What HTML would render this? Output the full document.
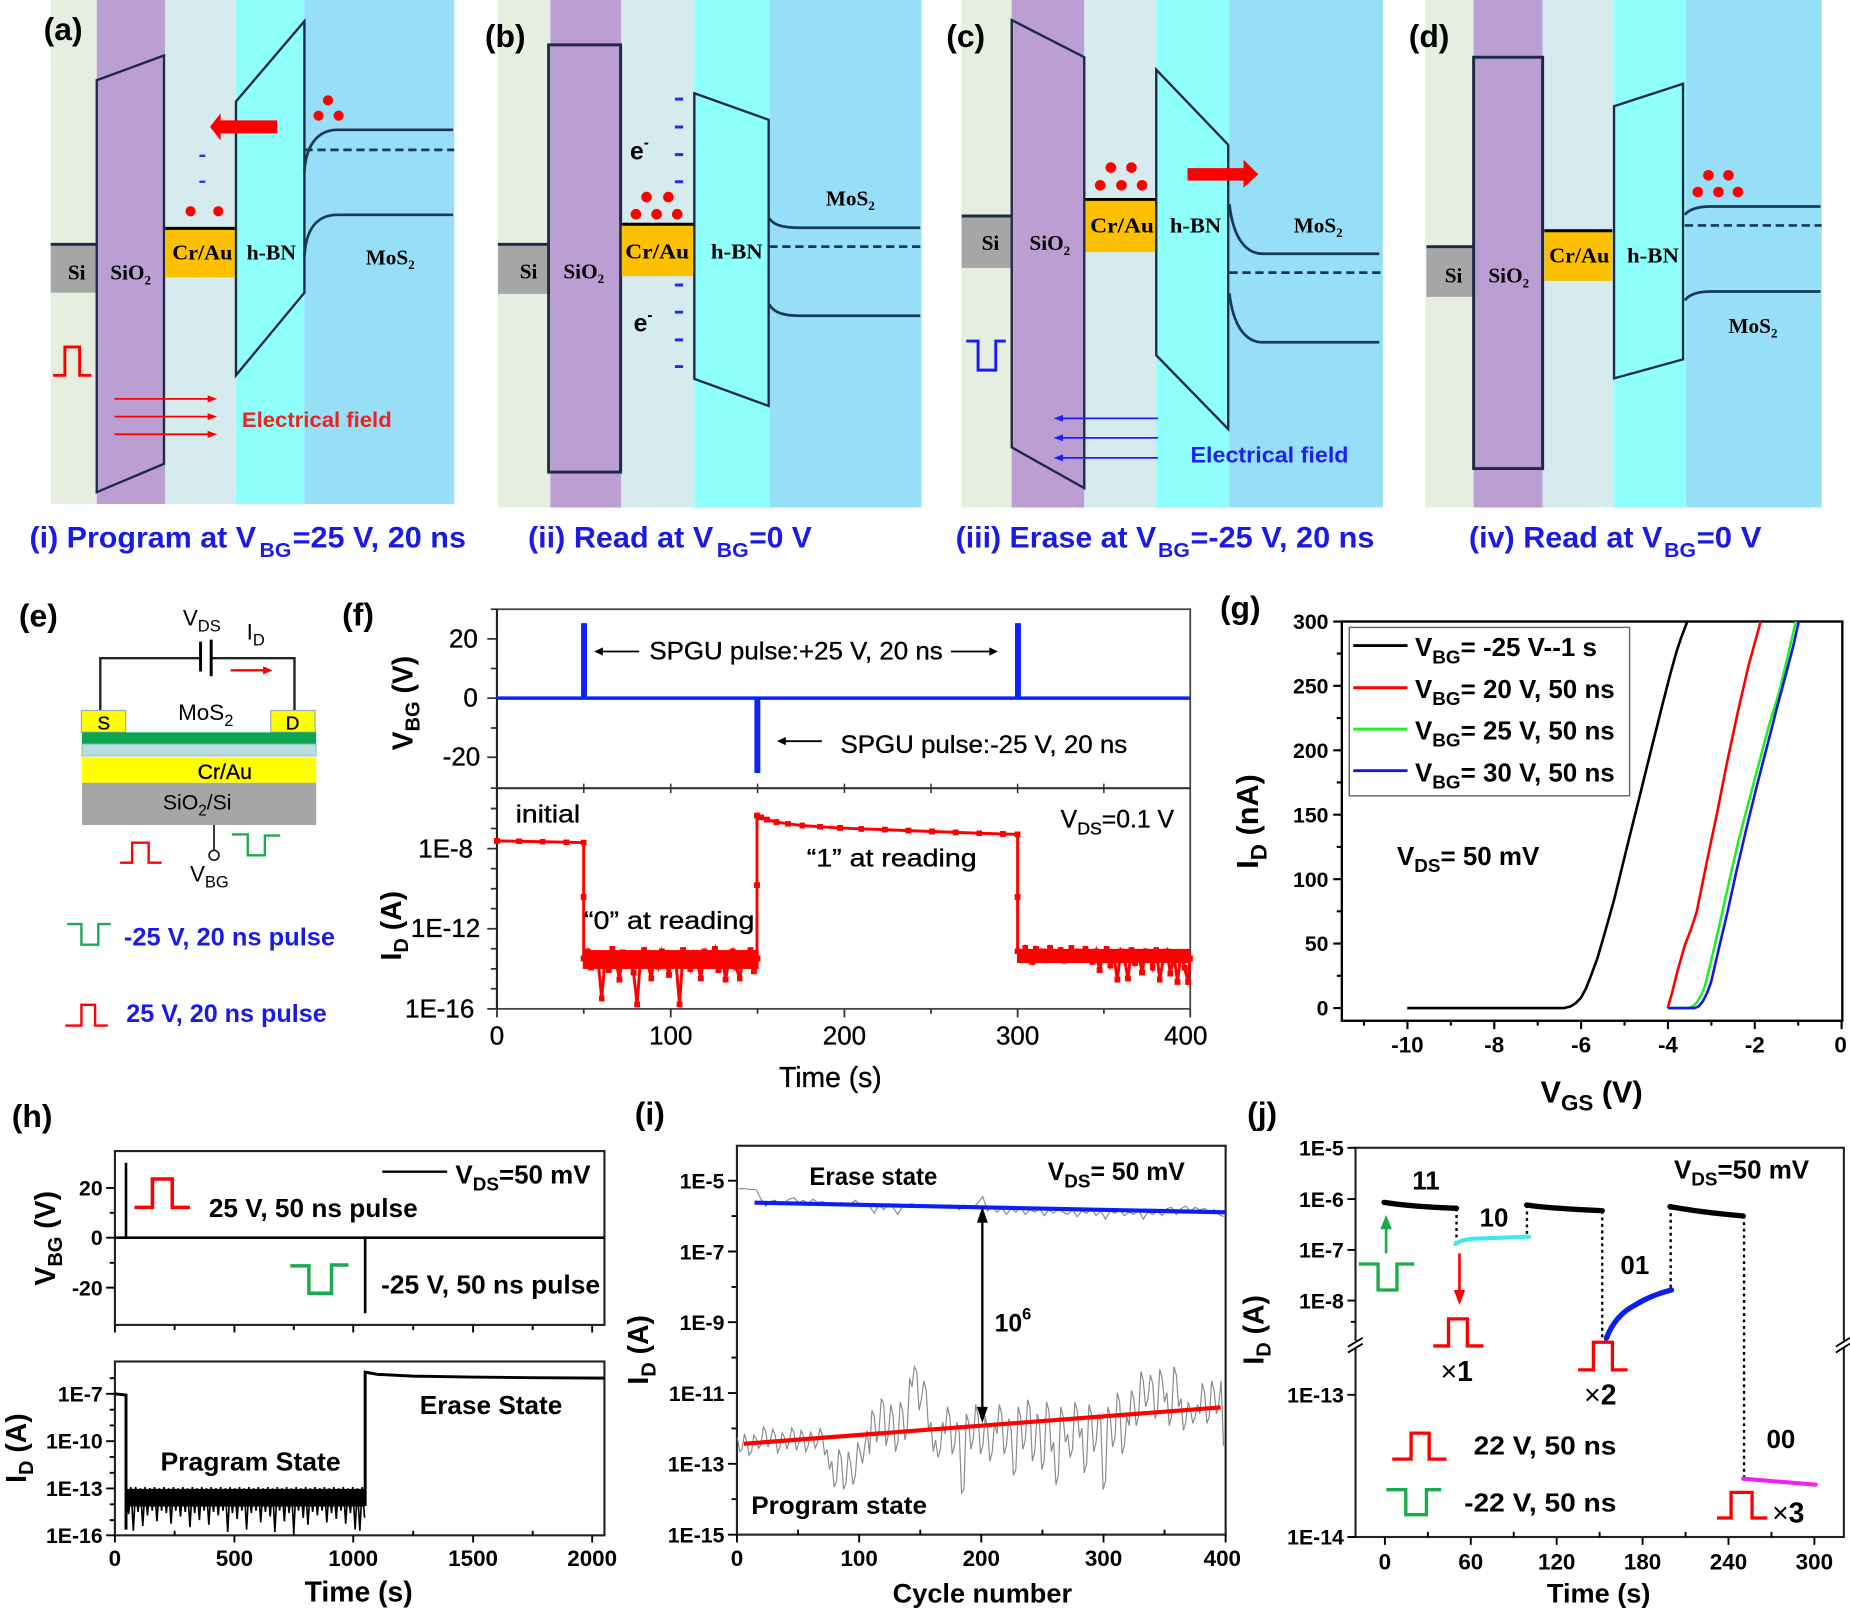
<!DOCTYPE html>
<html><head><meta charset="utf-8"><style>
html,body{margin:0;padding:0;background:#fff}
svg{display:block}
.b{font-family:"Liberation Sans",Arial,sans-serif;font-weight:bold}
.r{font-family:"Liberation Sans",Arial,sans-serif}
.s{font-family:"Liberation Serif",serif;font-weight:bold}
</style></head><body>
<svg xmlns="http://www.w3.org/2000/svg" width="1850" height="1611" viewBox="0 0 1568 1365" preserveAspectRatio="none">
<defs>
<marker id="sq" markerWidth="5" markerHeight="5" refX="2.5" refY="2.5" markerUnits="userSpaceOnUse"><rect width="5" height="5" fill="#f00"/></marker>
</defs>
<rect width="1568" height="1365" fill="#fff"/>

<!-- ===== Panel a ===== -->
<rect x="43" y="0" width="39" height="427" fill="#e6efdf"/>
<rect x="82" y="0" width="58" height="427" fill="#bc9fd2"/>
<rect x="140" y="0" width="60" height="427" fill="#d6ebed"/>
<rect x="200" y="0" width="58" height="427" fill="#8ffffc"/>
<rect x="258" y="0" width="127" height="427" fill="#97dff6"/>
<rect x="43" y="207" width="39" height="41" fill="#a6a6a6"/>
<line x1="43" y1="207" x2="82" y2="207" stroke="#1c2a48" stroke-width="2.5"/>
<polygon points="82,68 139,47 139,393 82,417" fill="none" stroke="#1c2a48" stroke-width="2"/>
<rect x="140" y="194" width="59" height="41" fill="#fdc000"/>
<line x1="140" y1="193.5" x2="199" y2="193.5" stroke="#000" stroke-width="2.5"/>
<polygon points="200,86 258,18 258,248 200,318" fill="#8ffffc" stroke="#1c2a48" stroke-width="2"/>
<path d="M258,146 C259,125 268,110 286,110 L384,110 M258,218 C259,195 268,182 286,182 L384,182" fill="none" stroke="#173a52" stroke-width="2.3"/>
<path d="M258,127 L385,127" stroke="#173a52" stroke-width="2.3" stroke-dasharray="7,4"/>
<circle cx="161.5" cy="179" r="4.3" fill="#f00"/><circle cx="185" cy="179" r="4.3" fill="#f00"/>
<circle cx="278" cy="85" r="4.3" fill="#f00"/><circle cx="270" cy="98" r="4.3" fill="#f00"/><circle cx="287" cy="98" r="4.3" fill="#f00"/>
<path d="M169,132H174 M169,154H174" stroke="#2030e0" stroke-width="2"/>
<polygon points="235,102 187,102 187,96 178,107.5 187,119 187,113 235,113" fill="#f00"/>
<polyline points="45,318 55,318 55,294 67.5,294 67.5,318 77.5,318" fill="none" stroke="#f00" stroke-width="2.5"/>
<path d="M97,338H178 M97,353H178 M97,368H178" stroke="#f00" stroke-width="1.5"/>
<polygon points="184,338 176,335 176,341" fill="#f00"/><polygon points="184,353 176,350 176,356" fill="#f00"/><polygon points="184,368 176,365 176,371" fill="#f00"/>
<text x="205" y="362" class="b" font-size="18" fill="#f02020" textLength="127" lengthAdjust="spacingAndGlyphs">Electrical field</text>
<text x="65" y="237" class="s" font-size="18" text-anchor="middle">Si</text>
<text x="93.5" y="237" class="s" font-size="18">SiO<tspan font-size="11" dy="4">2</tspan></text>
<text x="146" y="220" class="s" font-size="18" textLength="51" lengthAdjust="spacingAndGlyphs">Cr/Au</text>
<text x="209" y="220" class="s" font-size="18" textLength="42" lengthAdjust="spacingAndGlyphs">h-BN</text>
<text x="310" y="224" class="s" font-size="18">MoS<tspan font-size="11" dy="4">2</tspan></text>
<text x="37" y="34" class="b" font-size="27">(a)</text>

<!-- ===== Panel b ===== -->
<rect x="422" y="0" width="44.5" height="430" fill="#e6efdf"/>
<rect x="466.5" y="0" width="60" height="430" fill="#bc9fd2"/>
<rect x="526.5" y="0" width="62" height="430" fill="#d6ebed"/>
<rect x="588.5" y="0" width="64" height="430" fill="#8ffffc"/>
<rect x="652.5" y="0" width="128.5" height="430" fill="#97dff6"/>
<rect x="422" y="207" width="44" height="42" fill="#a6a6a6"/>
<line x1="422" y1="207" x2="466" y2="207" stroke="#1c2a48" stroke-width="2.5"/>
<rect x="465" y="38" width="61" height="362" fill="none" stroke="#1c2a48" stroke-width="2.5"/>
<rect x="527" y="190" width="61" height="44" fill="#fdc000"/>
<line x1="527" y1="190" x2="588" y2="190" stroke="#000" stroke-width="2.5"/>
<polygon points="588.5,79 651.5,101.5 651.5,344 588.5,321" fill="#8ffffc" stroke="#1c2a48" stroke-width="2"/>
<path d="M652,185 C656,191 664,193 678,193 L780,193 M652,258 C656,265 664,267.5 678,267.5 L780,267.5" fill="none" stroke="#173a52" stroke-width="2.3"/>
<path d="M652,209 L781,209" stroke="#173a52" stroke-width="2.3" stroke-dasharray="7,4"/>
<circle cx="548" cy="167" r="4.5" fill="#f00"/><circle cx="566.5" cy="167" r="4.5" fill="#f00"/>
<circle cx="539" cy="181.5" r="4.5" fill="#f00"/><circle cx="556.5" cy="181.5" r="4.5" fill="#f00"/><circle cx="574" cy="181.5" r="4.5" fill="#f00"/>
<path d="M572,84H579 M572,107.6H579 M572,131H579 M572,154H579 M572,241.5H579 M572,264.5H579 M572,288H579 M572,310.6H579" stroke="#2030e0" stroke-width="2.5"/>
<text x="534" y="135" class="r" font-size="21" font-weight="bold">e<tspan font-size="13" dy="-10">-</tspan></text>
<text x="537" y="281" class="r" font-size="21" font-weight="bold">e<tspan font-size="13" dy="-10">-</tspan></text>
<text x="448" y="236" class="s" font-size="18" text-anchor="middle">Si</text>
<text x="477.5" y="236" class="s" font-size="18">SiO<tspan font-size="11" dy="4">2</tspan></text>
<text x="530" y="219" class="s" font-size="18" textLength="54" lengthAdjust="spacingAndGlyphs">Cr/Au</text>
<text x="602.5" y="219" class="s" font-size="18" textLength="44" lengthAdjust="spacingAndGlyphs">h-BN</text>
<text x="700" y="174" class="s" font-size="18">MoS<tspan font-size="11" dy="4">2</tspan></text>
<text x="411" y="40" class="b" font-size="27">(b)</text>

<!-- ===== Panel c ===== -->
<rect x="815" y="0" width="42.5" height="430" fill="#e6efdf"/>
<rect x="857.5" y="0" width="61.5" height="430" fill="#bc9fd2"/>
<rect x="919" y="0" width="61" height="430" fill="#d6ebed"/>
<rect x="980" y="0" width="62" height="430" fill="#8ffffc"/>
<rect x="1042" y="0" width="130" height="430" fill="#97dff6"/>
<rect x="815" y="183" width="42.5" height="44" fill="#a6a6a6"/>
<line x1="815" y1="183" x2="857.5" y2="183" stroke="#1c2a48" stroke-width="2.5"/>
<polygon points="857.5,17 919,48.5 919,413.6 857.5,379" fill="none" stroke="#1c2a48" stroke-width="2"/>
<rect x="920" y="169" width="60" height="44.6" fill="#fdc000"/>
<line x1="920" y1="169" x2="980" y2="169" stroke="#000" stroke-width="2.5"/>
<polygon points="980,59 1041,122.7 1041,363.6 980,301" fill="#8ffffc" stroke="#1c2a48" stroke-width="2"/>
<path d="M1042,173 C1045,200 1055,215 1070,215 L1169,215 M1042,248.5 C1045,275 1055,290 1070,290 L1169,290" fill="none" stroke="#173a52" stroke-width="2.3"/>
<path d="M1042,231 L1170,231" stroke="#173a52" stroke-width="2.3" stroke-dasharray="7,4"/>
<circle cx="941.5" cy="142" r="4.5" fill="#f00"/><circle cx="959" cy="142" r="4.5" fill="#f00"/>
<circle cx="932.5" cy="157" r="4.5" fill="#f00"/><circle cx="950.5" cy="157" r="4.5" fill="#f00"/><circle cx="968" cy="157" r="4.5" fill="#f00"/>
<polygon points="1006.5,142.4 1054,142.4 1054,135.4 1066.5,147.7 1054,159 1054,153 1006.5,153" fill="#f00"/>
<polyline points="819,289 829,289 829,313.6 844,313.6 844,289 852.5,289" fill="none" stroke="#1a1aff" stroke-width="2.5"/>
<path d="M900,354.5H981.5 M900,371H981.5 M900,388H981.5" stroke="#2020ff" stroke-width="1.5"/>
<polygon points="893,354.5 901,351.5 901,357.5" fill="#2020ff"/><polygon points="893,371 901,368 901,374" fill="#2020ff"/><polygon points="893,388 901,385 901,391" fill="#2020ff"/>
<text x="1009" y="392" class="b" font-size="19" fill="#2020f0" textLength="134" lengthAdjust="spacingAndGlyphs">Electrical field</text>
<text x="839.5" y="212" class="s" font-size="18" text-anchor="middle">Si</text>
<text x="872.5" y="212" class="s" font-size="18">SiO<tspan font-size="11" dy="4">2</tspan></text>
<text x="924" y="197" class="s" font-size="18" textLength="54" lengthAdjust="spacingAndGlyphs">Cr/Au</text>
<text x="991.5" y="197" class="s" font-size="18" textLength="43.5" lengthAdjust="spacingAndGlyphs">h-BN</text>
<text x="1096.5" y="197" class="s" font-size="18">MoS<tspan font-size="11" dy="4">2</tspan></text>
<text x="802" y="40" class="b" font-size="27">(c)</text>

<!-- ===== Panel d ===== -->
<rect x="1208" y="0" width="41" height="430" fill="#e6efdf"/>
<rect x="1249" y="0" width="58.5" height="430" fill="#bc9fd2"/>
<rect x="1307.5" y="0" width="60.5" height="430" fill="#d6ebed"/>
<rect x="1368" y="0" width="61" height="430" fill="#8ffffc"/>
<rect x="1429" y="0" width="115" height="430" fill="#97dff6"/>
<rect x="1209" y="209" width="40" height="42.5" fill="#a6a6a6"/>
<line x1="1209" y1="209" x2="1249" y2="209" stroke="#1c2a48" stroke-width="2.5"/>
<rect x="1249" y="48.5" width="58.5" height="348.5" fill="none" stroke="#1c2a48" stroke-width="2.5"/>
<rect x="1309" y="195.5" width="57.5" height="42.5" fill="#fdc000"/>
<line x1="1309" y1="195.5" x2="1366.5" y2="195.5" stroke="#000" stroke-width="2.5"/>
<polygon points="1368,90 1426.5,71 1426.5,304.5 1368,320.6" fill="#8ffffc" stroke="#1c2a48" stroke-width="2"/>
<path d="M1428,182 C1432,177 1440,175 1450,175 L1543,175 M1428,254.5 C1432,249 1440,247 1450,247 L1543,247" fill="none" stroke="#173a52" stroke-width="2.3"/>
<path d="M1428,191 L1544,191" stroke="#173a52" stroke-width="2.3" stroke-dasharray="7,4"/>
<circle cx="1448" cy="148.5" r="4.5" fill="#f00"/><circle cx="1465" cy="148.5" r="4.5" fill="#f00"/>
<circle cx="1439" cy="162.7" r="4.5" fill="#f00"/><circle cx="1456.5" cy="162.7" r="4.5" fill="#f00"/><circle cx="1473" cy="162.7" r="4.5" fill="#f00"/>
<text x="1232" y="239.5" class="s" font-size="18" text-anchor="middle">Si</text>
<text x="1261.5" y="239.5" class="s" font-size="18">SiO<tspan font-size="11" dy="4">2</tspan></text>
<text x="1313" y="222.6" class="s" font-size="18" textLength="51" lengthAdjust="spacingAndGlyphs">Cr/Au</text>
<text x="1379" y="222.6" class="s" font-size="18" textLength="44" lengthAdjust="spacingAndGlyphs">h-BN</text>
<text x="1465" y="282" class="s" font-size="18">MoS<tspan font-size="11" dy="4">2</tspan></text>
<text x="1194" y="40" class="b" font-size="27">(d)</text>

<!-- captions -->
<g class="b" fill="#1a1ae8" font-size="25">
<text x="25" y="464" textLength="192" lengthAdjust="spacingAndGlyphs">(i) Program at V</text>
<text x="220" y="472" font-size="17" textLength="27" lengthAdjust="spacingAndGlyphs">BG</text>
<text x="248" y="464" textLength="147" lengthAdjust="spacingAndGlyphs">=25 V, 20 ns</text>
<text x="447.5" y="464" textLength="157" lengthAdjust="spacingAndGlyphs">(ii) Read at V</text>
<text x="607.5" y="472" font-size="17" textLength="27" lengthAdjust="spacingAndGlyphs">BG</text>
<text x="635" y="464" textLength="53" lengthAdjust="spacingAndGlyphs">=0 V</text>
<text x="810" y="464" textLength="170" lengthAdjust="spacingAndGlyphs">(iii) Erase at V</text>
<text x="981.5" y="472" font-size="17" textLength="27" lengthAdjust="spacingAndGlyphs">BG</text>
<text x="1009" y="464" textLength="156" lengthAdjust="spacingAndGlyphs">=-25 V, 20 ns</text>
<text x="1245" y="464" textLength="164" lengthAdjust="spacingAndGlyphs">(iv) Read at V</text>
<text x="1410.5" y="472" font-size="17" textLength="27" lengthAdjust="spacingAndGlyphs">BG</text>
<text x="1438" y="464" textLength="55" lengthAdjust="spacingAndGlyphs">=0 V</text>
</g>

<!-- ===== Panel e ===== -->
<text x="16" y="531" class="b" font-size="27">(e)</text>
<text x="155" y="530" class="r" font-size="19">V<tspan font-size="14" dy="5">DS</tspan></text>
<text x="209" y="542" class="r" font-size="19">I<tspan font-size="14" dy="5">D</tspan></text>
<path d="M85,603 V557.7 H170 M179,557.7 H249.6 V603" fill="none" stroke="#222" stroke-width="2"/>
<path d="M170,543.6 V569 M179,542 V573" stroke="#000" stroke-width="2.5"/>
<line x1="195.5" y1="568" x2="225" y2="568" stroke="#f00" stroke-width="2"/>
<polygon points="231,568 223,564.5 223,571.5" fill="#f00"/>
<rect x="69" y="602" width="37.5" height="18.5" fill="#ffff00" stroke="#9aa" stroke-width="1"/>
<rect x="229.5" y="602" width="37.5" height="18.5" fill="#ffff00" stroke="#9aa" stroke-width="1"/>
<rect x="69.5" y="620.5" width="198.5" height="10" fill="#0ca550"/>
<rect x="69.5" y="630.5" width="198.5" height="10" fill="#b7dde0" stroke="#9bb" stroke-width="0.8"/>
<rect x="69.5" y="641.6" width="198.5" height="21.7" fill="#ffff00"/>
<rect x="69.5" y="663.3" width="198.5" height="35.7" fill="#a6a6a6"/>
<text x="88" y="618" class="r" font-size="16" text-anchor="middle" stroke="#000" stroke-width="0.3">S</text>
<text x="248" y="618" class="r" font-size="16" text-anchor="middle" stroke="#000" stroke-width="0.3">D</text>
<text x="151" y="610" class="r" font-size="19">MoS<tspan font-size="14" dy="5">2</tspan></text>
<text x="190.5" y="660" class="r" font-size="18" text-anchor="middle" stroke="#000" stroke-width="0.3">Cr/Au</text>
<text x="138" y="686" class="r" font-size="18">SiO<tspan font-size="13" dy="5">2</tspan><tspan dy="-5">/Si</tspan></text>
<line x1="181.4" y1="699" x2="181.4" y2="720.5" stroke="#222" stroke-width="1.5"/>
<circle cx="181.4" cy="724.7" r="4.2" fill="#fff" stroke="#222" stroke-width="1.5"/>
<text x="161" y="747" class="r" font-size="19">V<tspan font-size="14" dy="5">BG</tspan></text>
<polyline points="101.8,731 112,731 112,714 126,714 126,731 137,731" fill="none" stroke="#f00" stroke-width="2"/>
<polyline points="196.6,707 210,707 210,724.7 224.5,724.7 224.5,708 237.5,708" fill="none" stroke="#1aaa50" stroke-width="2"/>
<polyline points="57,783 69,783 69,800.4 83.3,800.4 83.3,783 94,783" fill="none" stroke="#1aaa50" stroke-width="2"/>
<text x="105" y="801" class="b" font-size="21" fill="#1a1ae8" textLength="179" lengthAdjust="spacingAndGlyphs">-25 V, 20 ns pulse</text>
<polyline points="55.4,869 69,869 69,851.4 80.6,851.4 80.6,869 91.4,869" fill="none" stroke="#f00" stroke-width="2"/>
<text x="107" y="866" class="b" font-size="21" fill="#1a1ae8" textLength="170" lengthAdjust="spacingAndGlyphs">25 V, 20 ns pulse</text>

<!-- ===== Panel f ===== -->
<text x="290" y="530" class="b" font-size="27">(f)</text>
<rect x="421.2" y="516.2" width="587.6" height="338.6" fill="none" stroke="#444" stroke-width="1.5"/>
<line x1="421.2" y1="667.8" x2="1008.8" y2="667.8" stroke="#333" stroke-width="1.8"/>
<line x1="421.2" y1="516" x2="421.2" y2="855" stroke="#222" stroke-width="1.8"/>
<path d="M413,541.3H421 M413,591.5H421 M413,641.6H421 M416,566.4H421 M416,616.8H421 M416,516.2H421 M416,667.8H421" stroke="#333" stroke-width="1.5"/>
<path d="M416,685.1H421 M416,702H421 M413,719H421 M416,736H421 M416,753H421 M416,769.9H421 M413,786.9H421 M416,803.9H421 M416,820.9H421 M416,837.8H421 M413,854.8H421" stroke="#333" stroke-width="1.5"/>
<path d="M421.2,855V862 M568.5,855V862 M715.7,855V862 M862.5,855V862 M1008.8,855V862 M494.8,855V859 M642.1,855V859 M789.1,855V859 M935.6,855V859" stroke="#333" stroke-width="1.5"/>
<path d="M494.8,664V672 M568.5,664V672 M642.1,664V672 M715.7,664V672 M789.1,664V672 M862.5,664V672 M935.6,664V672" stroke="#333" stroke-width="1.3"/>
<!-- VBG trace -->
<line x1="421.2" y1="591.5" x2="1008.8" y2="591.5" stroke="#0b24fb" stroke-width="3"/>
<rect x="492.5" y="528" width="5" height="64" fill="#0b24fb"/>
<rect x="860.3" y="528" width="5" height="64" fill="#0b24fb"/>
<rect x="639.4" y="591" width="5" height="64" fill="#0b24fb"/>
<g class="r" font-size="21" stroke="#000" stroke-width="0.3">
<text x="550.4" y="559" textLength="248.6" lengthAdjust="spacingAndGlyphs">SPGU pulse:+25 V, 20 ns</text>
<text x="712.4" y="638" textLength="243" lengthAdjust="spacingAndGlyphs">SPGU pulse:-25 V, 20 ns</text>
</g>
<path d="M509,552H541.8 M806,552H840 M664,628H696.6" stroke="#000" stroke-width="1.5"/>
<polygon points="503.6,552 511,548.5 511,555.5" fill="#000"/>
<polygon points="845.8,552 838.5,548.5 838.5,555.5" fill="#000"/>
<polygon points="658.5,628 666,624.5 666,631.5" fill="#000"/>
<!-- ID trace -->
<rect x="494" y="805" width="149" height="16" fill="#f00"/>
<rect x="862" y="804" width="147" height="12" fill="#f00"/>
<g fill="none" stroke="#f00" stroke-width="2.5" marker-start="url(#sq)" marker-mid="url(#sq)" marker-end="url(#sq)">
<polyline points="421.2,712.5 440,712.8 460,713.2 480,713.6 494.7,714 494.7,760 494.7,812"/>
<polyline points="495,812 498,806 501,820 504,808 507,815 510,846 513,810 516,822 519,804 522,813 525,830 528,807 531,818 534,810 537,824 540,851 543,811 546,805 549,816 552,829 555,809 558,819 561,806 564,814 567,826 570,808 573,817 576,851 579,805 582,813 585,821 588,808 591,815 594,829 597,806 600,818 603,811 606,804 609,822 612,809 615,830 618,813 621,806 624,820 627,829 630,810 633,817 636,805 639,823 642,812"/>
<polyline points="641.6,812 641.6,750 641.6,691 645,692.5 650,694.5 658,696.5 668,698 680,699.5 695,700.5 712,701.5 730,702.3 750,703 770,703.8 790,704.5 810,705.3 830,706 850,706.6 862.5,707 862.5,760 862.5,806"/>
<polyline points="863,806 866,812 869,803 872,809 875,815 878,804 881,810 884,806 887,813 890,803 893,808 896,811 899,805 902,814 905,807 908,803 911,810 914,806 917,812 920,804 923,809 926,815 929,806 932,822 935,808 938,804 941,818 944,809 947,830 950,806 953,812 956,829 959,805 962,816 965,808 968,824 971,806 974,811 977,820 980,805 983,830 986,812 989,806 992,825 995,810 998,832 1001,807 1004,820 1007,832 1008.5,812"/>
</g>
<g class="r" font-size="21" stroke="#000" stroke-width="0.3">
<text x="437" y="697" textLength="54.7" lengthAdjust="spacingAndGlyphs">initial</text>
<text x="495" y="787" textLength="144.4" lengthAdjust="spacingAndGlyphs">“0” at reading</text>
<text x="683.8" y="734" textLength="144" lengthAdjust="spacingAndGlyphs">“1” at reading</text>
<text x="899" y="701">V<tspan font-size="15" dy="6">DS</tspan><tspan dy="-6">=0.1 V</tspan></text>
</g>
<g class="r" font-size="22" stroke="#000" stroke-width="0.3" text-anchor="end">
<text x="405" y="548.5">20</text><text x="405" y="598.5">0</text><text x="407" y="648.5">-20</text>
<text x="401" y="726.5">1E-8</text><text x="407" y="794">1E-12</text><text x="402" y="862">1E-16</text>
</g>
<g class="r" font-size="22" stroke="#000" stroke-width="0.3" text-anchor="middle">
<text x="421.2" y="885">0</text><text x="568.5" y="885">100</text><text x="715.7" y="885">200</text><text x="862.5" y="885">300</text><text x="1005" y="885">400</text>
<text x="703.8" y="921" font-size="24">Time (s)</text>
</g>
<g class="b" font-size="24" text-anchor="middle">
<text transform="translate(341.6,595.7) rotate(-90)" y="8">V<tspan font-size="17" dy="6">BG</tspan><tspan dy="-6"> (V)</tspan></text>
<text transform="translate(332,784.4) rotate(-90)" y="8">I<tspan font-size="17" dy="6">D</tspan><tspan dy="-6"> (A)</tspan></text>
</g>

<!-- ===== Panel g ===== -->
<text x="1034" y="524" class="b" font-size="27">(g)</text>
<rect x="1137.3" y="526.6" width="424.2" height="338.3" fill="none" stroke="#000" stroke-width="2"/>
<path d="M1130,854.1H1137 M1130,799.5H1137 M1130,744.9H1137 M1130,690.3H1137 M1130,635.7H1137 M1130,581.1H1137 M1130,526.6H1137 M1133,826.8H1137 M1133,772.2H1137 M1133,717.6H1137 M1133,663H1137 M1133,608.4H1137 M1133,553.8H1137" stroke="#000" stroke-width="1.8"/>
<path d="M1192.9,865V872 M1266.5,865V872 M1340.1,865V872 M1413.7,865V872 M1487.3,865V872 M1560.9,865V872 M1156.1,865V869 M1229.7,865V869 M1303.3,865V869 M1376.9,865V869 M1450.5,865V869 M1524.1,865V869" stroke="#000" stroke-width="1.8"/>
<g fill="none" stroke-width="2.2" stroke-linejoin="round">
<polyline stroke="#000" points="1192.7,854.1 1325.9,854.1 1331,852.8 1335.5,850 1339.9,845.5 1344,838 1348,828 1353.9,812 1360,791 1367.9,763 1375,734 1381.9,706 1388.9,678 1395.8,650 1402.8,622 1409.8,594 1416,570 1421,552 1425,540 1430.1,526.6"/>
<polyline stroke="#f00" points="1413.5,854.1 1417,842 1422,822 1428,801 1433,788 1438,773 1446.5,731 1455.5,688 1464,645 1473,603 1482,564 1492.3,526.6"/>
<polyline stroke="#22ee22" points="1413.5,854.1 1431.2,854.1 1435,852.5 1438.5,849 1442,843 1445.2,835 1452,807 1459.1,776 1466,745 1473.1,714 1482,680 1490.8,647 1499,616 1508.1,586 1515,557 1522.1,526.6"/>
<polyline stroke="#1515f0" points="1413.5,854.1 1436.3,854.1 1440,852.5 1443.5,848 1447,841 1450.3,832 1457,803 1464.3,772.2 1472,737 1480.1,702.4 1489,666 1497.8,632 1506,600 1515.1,566 1520,547 1524.6,526.6"/>
</g>
<rect x="1143.6" y="531.6" width="237.6" height="142.7" fill="#fff" stroke="#666" stroke-width="1.2"/>
<path d="M1147,547H1193" stroke="#000" stroke-width="2.5"/>
<path d="M1147,582.7H1193" stroke="#f00" stroke-width="2.5"/>
<path d="M1147,617.8H1193" stroke="#22ee22" stroke-width="2.5"/>
<path d="M1147,653H1193" stroke="#1515f0" stroke-width="2.5"/>
<g class="b" font-size="22">
<text x="1199.3" y="556">V<tspan font-size="16" dy="6">BG</tspan><tspan dy="-6">= -25 V--1 s</tspan></text>
<text x="1199.3" y="591.5">V<tspan font-size="16" dy="6">BG</tspan><tspan dy="-6">= 20 V, 50 ns</tspan></text>
<text x="1199.3" y="626.5">V<tspan font-size="16" dy="6">BG</tspan><tspan dy="-6">= 25 V, 50 ns</tspan></text>
<text x="1199.3" y="662">V<tspan font-size="16" dy="6">BG</tspan><tspan dy="-6">= 30 V, 50 ns</tspan></text>
<text x="1184" y="733">V<tspan font-size="16" dy="6">DS</tspan><tspan dy="-6">= 50 mV</tspan></text>
</g>
<g class="b" font-size="18" text-anchor="end">
<text x="1126" y="533">300</text><text x="1126" y="587.6">250</text><text x="1126" y="642.2">200</text><text x="1126" y="696.8">150</text><text x="1126" y="751.4">100</text><text x="1126" y="806">50</text><text x="1126" y="860.6">0</text>
</g>
<g class="b" font-size="19" text-anchor="middle">
<text x="1192.9" y="892">-10</text><text x="1266.5" y="892">-8</text><text x="1340.1" y="892">-6</text><text x="1413.7" y="892">-4</text><text x="1487.3" y="892">-2</text><text x="1560" y="892">0</text>
</g>
<text x="1349" y="934" class="b" font-size="26" text-anchor="middle">V<tspan font-size="19" dy="7">GS</tspan><tspan dy="-7"> (V)</tspan></text>
<text transform="translate(1057.4,696) rotate(-90)" y="9" class="b" font-size="26" text-anchor="middle">I<tspan font-size="19" dy="7">D</tspan><tspan dy="-7"> (nA)</tspan></text>

<!-- ===== Panel h ===== -->
<text x="10" y="955" class="b" font-size="27">(h)</text>
<rect x="97.4" y="975.3" width="414.9" height="147.3" fill="none" stroke="#222" stroke-width="1.8"/>
<path d="M90,1006.5H97 M90,1048.7H97 M90,1091H97 M93,1027.6H97 M93,1070H97" stroke="#000" stroke-width="1.6"/>
<path d="M97.4,1122.6V1129 M198.7,1122.6V1129 M299.4,1122.6V1129 M401,1122.6V1129 M501.9,1122.6V1129 M148,1122.6V1127 M249,1122.6V1127 M350.2,1122.6V1127 M451.5,1122.6V1127" stroke="#000" stroke-width="1.6"/>
<line x1="97.4" y1="1048.7" x2="512.3" y2="1048.7" stroke="#000" stroke-width="2.2"/>
<line x1="106.8" y1="985.2" x2="106.8" y2="1049" stroke="#000" stroke-width="2.2"/>
<line x1="309.5" y1="1048.5" x2="309.5" y2="1112.7" stroke="#000" stroke-width="2.2"/>
<polyline points="114,1023 129.2,1023 129.2,999 146,999 146,1023 161,1023" fill="none" stroke="#f00" stroke-width="3"/>
<polyline points="246,1072.6 261.8,1072.6 261.8,1095.8 281,1095.8 281,1071.8 295.4,1071.8" fill="none" stroke="#1aaa50" stroke-width="3"/>
<line x1="324" y1="992.8" x2="379" y2="992.8" stroke="#000" stroke-width="2"/>
<g class="b" font-size="22">
<text x="386" y="1002.7">V<tspan font-size="16" dy="6">DS</tspan><tspan dy="-6">=50 mV</tspan></text>
<text x="177" y="1031" textLength="177" lengthAdjust="spacingAndGlyphs">25 V, 50 ns pulse</text>
<text x="323" y="1096" textLength="185.6" lengthAdjust="spacingAndGlyphs">-25 V, 50 ns pulse</text>
</g>
<rect x="97.4" y="1153.6" width="414.9" height="147.3" fill="none" stroke="#222" stroke-width="1.8"/>
<path d="M93,1167.7H97 M90,1181H97 M93,1194.4H97 M93,1207.8H97 M90,1221.1H97 M93,1234.5H97 M93,1247.9H97 M90,1261.2H97 M93,1274.6H97 M93,1288H97 M90,1300.9H97" stroke="#000" stroke-width="1.6"/>
<path d="M97.4,1301V1307 M198.7,1301V1307 M299.4,1301V1307 M401,1301V1307 M501.9,1301V1307 M148,1301V1297 M249,1301V1297 M350.2,1301V1297 M451.5,1301V1297" stroke="#000" stroke-width="1.6"/>
<polyline points="97.4,1181 106.8,1182 106.8,1296" fill="none" stroke="#000" stroke-width="2.5"/>
<rect x="107" y="1261.5" width="202" height="15" fill="#000"/>
<polyline fill="none" stroke="#000" stroke-width="1.4" points="107,1261 109,1283 111,1260 113,1297 115,1260 117,1281 119,1261 121,1293 123,1260 125,1284 127,1261 129,1280 131,1260 133,1289 135,1261 137,1280 139,1260 141,1282 143,1261 145,1291 147,1260 149,1280 151,1261 153,1285 155,1260 157,1281 159,1261 161,1294 163,1260 165,1282 167,1261 169,1288 171,1260 173,1280 175,1261 177,1292 179,1260 181,1281 183,1261 185,1284 187,1260 189,1280 191,1261 193,1298 195,1260 197,1282 199,1261 201,1287 203,1260 205,1280 207,1261 209,1296 211,1260 213,1282 215,1261 217,1280 219,1260 221,1290 223,1261 225,1281 227,1260 229,1285 231,1261 233,1298 235,1260 237,1280 239,1261 241,1289 243,1260 245,1282 247,1261 249,1298 251,1260 253,1280 255,1261 257,1286 259,1260 261,1292 263,1261 265,1281 267,1260 269,1284 271,1261 273,1280 275,1260 277,1290 279,1261 281,1282 283,1260 285,1287 287,1261 289,1280 291,1260 293,1291 295,1261 297,1282 299,1260 301,1296 303,1261 305,1297 307,1260 309,1286"/>
<polyline points="309.5,1276 309.5,1162.6 320,1164.5 350,1166 400,1166.8 450,1167.3 512,1167.7" fill="none" stroke="#000" stroke-width="2.5"/>
<g class="b" font-size="22">
<text x="355.8" y="1198" textLength="120.8" lengthAdjust="spacingAndGlyphs">Erase State</text>
<text x="136" y="1246" textLength="152.7" lengthAdjust="spacingAndGlyphs">Pragram State</text>
</g>
<g class="b" font-size="18" text-anchor="end">
<text x="87" y="1013">20</text><text x="87" y="1055">0</text><text x="87" y="1097.5">-20</text>
<text x="87" y="1187.5">1E-7</text><text x="87" y="1227.5">1E-10</text><text x="87" y="1267.5">1E-13</text><text x="87" y="1307.5">1E-16</text>
</g>
<g class="b" font-size="19" text-anchor="middle">
<text x="97.4" y="1327">0</text><text x="198.7" y="1327">500</text><text x="299.4" y="1327">1000</text><text x="401" y="1327">1500</text><text x="501.9" y="1327">2000</text>
<text x="304" y="1357" font-size="24">Time (s)</text>
</g>
<g class="b" font-size="24" text-anchor="middle">
<text transform="translate(38.6,1049.2) rotate(-90)" y="8">V<tspan font-size="17" dy="6">BG</tspan><tspan dy="-6"> (V)</tspan></text>
<text transform="translate(14,1227) rotate(-90)" y="8">I<tspan font-size="17" dy="6">D</tspan><tspan dy="-6"> (A)</tspan></text>
</g>

<!-- ===== Panel i ===== -->
<text x="538" y="953" class="b" font-size="27">(i)</text>
<rect x="624.6" y="970.8" width="414.2" height="329.5" fill="none" stroke="#222" stroke-width="1.8"/>
<path d="M617,1000.4H624 M620,1030.4H624 M617,1060.4H624 M620,1090.4H624 M617,1120.3H624 M620,1150.3H624 M617,1180.3H624 M620,1210.3H624 M617,1240.3H624 M620,1270.3H624 M617,1300.3H624" stroke="#000" stroke-width="1.6"/>
<path d="M624.6,1300.3V1307 M728.2,1300.3V1307 M831.7,1300.3V1307 M935.3,1300.3V1307 M1038.8,1300.3V1307 M676.4,1300.3V1296 M780,1300.3V1296 M883.5,1300.3V1296 M987,1300.3V1296" stroke="#000" stroke-width="1.6"/>
<polyline fill="none" stroke="#8a8a8a" stroke-width="1" points="625,1007.5 629,1007 633,1007.5 637,1007.8 641,1008 645,1016 649,1022 653,1018 657,1017 661,1021 665,1019 669,1016 673,1015 677,1019 681,1017 685,1020 689,1016 693,1019 697,1018 701,1020 705,1019 709,1020 713,1019 717,1021 721,1020 725,1017 729,1021 733,1020 737,1022 741,1028 745,1021 749,1025 753,1020 757,1023 761,1029 765,1022 769,1021 773,1020 777,1021 781,1023 785,1021 789,1022 793,1021 797,1023 801,1022 805,1021 809,1022 813,1025 817,1021 821,1022 825,1023 829,1019 833,1014 837,1026 841,1022 845,1027 849,1023 853,1029 857,1024 861,1027 865,1023 869,1029 873,1025 877,1027 881,1024 885,1030 889,1025 893,1028 897,1024 901,1027 905,1029 909,1025 913,1031 917,1026 921,1028 925,1024 929,1030 933,1026 937,1033 941,1026 945,1028 949,1025 953,1030 957,1027 961,1029 965,1025 969,1033 973,1027 977,1029 981,1026 985,1030 989,1024 993,1023 997,1029 1001,1024 1005,1022 1009,1026 1013,1023 1017,1025 1021,1024 1025,1027 1029,1025 1033,1029 1037,1031"/>
<polyline fill="none" stroke="#8a8a8a" stroke-width="1" points="625,1218 627,1230 629,1228 631,1215 633,1222 635,1233 637,1230 639,1216 641,1219 643,1227 645,1224 647,1209 649,1213 651,1226 653,1220 655,1211 657,1216 659,1231 661,1226 663,1214 665,1218 667,1228 669,1221 671,1210 673,1214 675,1229 677,1223 679,1212 681,1217 683,1230 685,1225 687,1213 689,1219 691,1227 693,1222 695,1210 697,1216 699,1233 701,1228 703,1245 705,1238 707,1260 709,1255 711,1228 713,1235 715,1262 717,1257 719,1230 721,1240 723,1258 725,1250 727,1222 729,1230 731,1240 733,1225 735,1212 737,1232 739,1195 741,1200 743,1222 745,1212 747,1185 749,1190 751,1225 753,1215 755,1190 757,1200 759,1230 761,1222 763,1188 765,1195 767,1220 769,1210 771,1168 773,1175 775,1158 777,1162 779,1195 781,1185 783,1170 785,1178 787,1212 789,1205 791,1230 793,1220 795,1235 797,1228 799,1205 801,1215 803,1192 805,1200 807,1232 809,1225 811,1205 813,1213 815,1265 817,1262 819,1198 821,1205 823,1228 825,1218 827,1190 829,1200 831,1232 833,1225 835,1200 837,1210 839,1238 841,1230 843,1205 845,1215 847,1190 849,1198 851,1232 853,1225 855,1202 857,1212 859,1250 861,1245 863,1192 865,1200 867,1228 869,1220 871,1186 873,1193 875,1238 877,1230 879,1198 881,1205 883,1245 885,1238 887,1188 889,1195 891,1230 893,1222 895,1258 897,1250 899,1192 901,1200 903,1222 905,1215 907,1235 909,1228 911,1188 913,1195 915,1218 917,1210 919,1248 921,1240 923,1190 925,1198 927,1230 929,1222 931,1198 933,1205 935,1262 937,1255 939,1192 941,1200 943,1226 945,1218 947,1180 949,1188 951,1232 953,1225 955,1200 957,1208 959,1178 961,1185 963,1208 965,1200 967,1162 969,1170 971,1192 973,1185 975,1165 977,1172 979,1202 981,1195 983,1160 985,1168 987,1188 989,1180 991,1208 993,1200 995,1158 997,1165 999,1192 1001,1185 1003,1212 1005,1205 1007,1188 1009,1195 1011,1206 1013,1200 1015,1190 1017,1198 1019,1172 1021,1180 1023,1206 1025,1200 1027,1170 1029,1178 1031,1198 1033,1190 1035,1170 1037,1225"/>
<line x1="639.5" y1="1019" x2="1038.8" y2="1027.2" stroke="#0b1ef5" stroke-width="3.5"/>
<line x1="630.5" y1="1223.3" x2="1034.6" y2="1192.5" stroke="#f00" stroke-width="3.5"/>
<line x1="832.6" y1="1032" x2="832.6" y2="1196" stroke="#000" stroke-width="2"/>
<polygon points="832.6,1022.4 828,1036 837.2,1036" fill="#000"/>
<polygon points="832.6,1205.8 828,1192 837.2,1192" fill="#000"/>
<g class="b" font-size="21">
<text x="686" y="1004" textLength="108.5" lengthAdjust="spacingAndGlyphs">Erase state</text>
<text x="888" y="1000">V<tspan font-size="16" dy="6">DS</tspan><tspan dy="-6">= 50 mV</tspan></text>
<text x="636.7" y="1283" textLength="149" lengthAdjust="spacingAndGlyphs">Program state</text>
<text x="843" y="1128">10<tspan font-size="14" dy="-10">6</tspan></text>
</g>
<g class="b" font-size="18" text-anchor="end">
<text x="614" y="1007">1E-5</text><text x="614" y="1067">1E-7</text><text x="614" y="1127">1E-9</text><text x="614" y="1187">1E-11</text><text x="614" y="1247">1E-13</text><text x="614" y="1307">1E-15</text>
</g>
<g class="b" font-size="19" text-anchor="middle">
<text x="624.6" y="1327">0</text><text x="728.2" y="1327">100</text><text x="831.7" y="1327">200</text><text x="935.3" y="1327">300</text><text x="1036" y="1327">400</text>
<text x="832.6" y="1358" font-size="23">Cycle number</text>
</g>
<text transform="translate(541.4,1143.7) rotate(-90)" y="8" class="b" font-size="24" text-anchor="middle">I<tspan font-size="17" dy="6">D</tspan><tspan dy="-6"> (A)</tspan></text>

<!-- ===== Panel j ===== -->
<text x="1057" y="953" class="b" font-size="27">(j)</text>
<rect x="1148.9" y="972.5" width="413.9" height="329.8" fill="none" stroke="#222" stroke-width="1.8"/>
<rect x="1144" y="1136" width="12" height="6" fill="#fff"/>
<rect x="1556" y="1136" width="12" height="6" fill="#fff"/>
<path d="M1142.5,1141 L1155,1133.5 M1142.5,1146 L1155,1138.5 M1556,1141 L1568,1133.5 M1556,1146 L1568,1138.5" stroke="#000" stroke-width="1.6"/>
<path d="M1142,972.5H1149 M1142,1016H1149 M1142,1059.1H1149 M1142,1102H1149 M1142,1181.8H1149 M1142,1302.3H1149 M1145,1120H1149" stroke="#000" stroke-width="1.6"/>
<path d="M1173.8,1302.3V1309 M1246.6,1302.3V1309 M1319.4,1302.3V1309 M1392.2,1302.3V1309 M1465,1302.3V1309 M1537.8,1302.3V1309 M1210.2,1302.3V1298 M1283,1302.3V1298 M1355.8,1302.3V1298 M1428.6,1302.3V1298 M1501.4,1302.3V1298" stroke="#000" stroke-width="1.6"/>
<g stroke="#000" stroke-width="2" stroke-dasharray="2.5,3">
<line x1="1234.5" y1="1024" x2="1234.5" y2="1053.5"/>
<line x1="1294.2" y1="1021" x2="1294.2" y2="1048"/>
<line x1="1358" y1="1026" x2="1358" y2="1134"/>
<line x1="1416" y1="1022.5" x2="1416" y2="1093"/>
<line x1="1478.2" y1="1030" x2="1478.2" y2="1254"/>
</g>
<g fill="none" stroke-linecap="round">
<path d="M1173.1,1018.8 C1190,1021.5 1215,1023 1234.5,1023.8" stroke="#000" stroke-width="4.5"/>
<path d="M1294,1021 C1310,1023.5 1335,1024.8 1358,1025.8" stroke="#000" stroke-width="4.5"/>
<path d="M1415.4,1022.4 C1435,1026 1460,1028.8 1477.5,1030.3" stroke="#000" stroke-width="4.5"/>
<path d="M1233.5,1054 C1238,1051 1242,1050 1250,1049.5 L1296,1047.8" stroke="#3ee8f0" stroke-width="3.5"/>
<path d="M1361.5,1134 C1366,1122 1374,1112 1385.4,1106 C1395,1100 1405,1096 1416.7,1093" stroke="#0a1ef0" stroke-width="4.5"/>
<path d="M1477.5,1252.9 L1538.9,1258" stroke="#f020f0" stroke-width="3.5"/>
</g>
<line x1="1174.8" y1="1062" x2="1174.8" y2="1040" stroke="#1aab4a" stroke-width="2.2"/>
<polygon points="1174.8,1029.5 1169.8,1041.5 1179.8,1041.5" fill="#1aab4a"/>
<line x1="1237" y1="1062" x2="1237" y2="1094" stroke="#f00" stroke-width="2.2"/>
<polygon points="1237,1105.7 1232.2,1093 1241.8,1093" fill="#f00"/>
<g fill="none" stroke-width="2.8">
<polyline stroke="#1aab4a" points="1151.6,1071 1168,1071 1168,1093 1184,1093 1184,1071 1198.7,1071"/>
<polyline stroke="#f00" points="1214.8,1140.4 1227.7,1140.4 1227.7,1117.5 1243.7,1117.5 1243.7,1140.4 1257.4,1140.4"/>
<polyline stroke="#f00" points="1337.6,1160.7 1350.5,1160.7 1350.5,1137.3 1366.6,1137.3 1366.6,1160.7 1379.5,1160.7"/>
<polyline stroke="#f00" points="1180,1236.3 1196,1236.3 1196,1214.3 1211.3,1214.3 1211.3,1236.3 1226,1236.3"/>
<polyline stroke="#1aab4a" points="1175,1262.2 1191.5,1262.2 1191.5,1283.4 1209,1283.4 1209,1262.2 1221.5,1262.2"/>
<polyline stroke="#f00" points="1455.3,1286.2 1467.2,1286.2 1467.2,1264.5 1485,1264.5 1485,1286.2 1498,1286.2"/>
</g>
<g class="b" font-size="22">
<text x="1197" y="1008">11</text><text x="1254" y="1039.4">10</text><text x="1373.4" y="1079.4">01</text><text x="1497.2" y="1227">00</text>
<text x="1418.8" y="998.5">V<tspan font-size="16" dy="6">DS</tspan><tspan dy="-6">=50 mV</tspan></text>
<text x="1249" y="1232.6" textLength="121" lengthAdjust="spacingAndGlyphs">22 V, 50 ns</text>
<text x="1241" y="1280.5" textLength="129" lengthAdjust="spacingAndGlyphs">-22 V, 50 ns</text>
</g>
<g class="r" font-size="24">
<text x="1221" y="1170">×<tspan font-weight="bold">1</tspan></text>
<text x="1342.7" y="1190">×<tspan font-weight="bold">2</tspan></text>
<text x="1502" y="1290">×<tspan font-weight="bold">3</tspan></text>
</g>
<g class="b" font-size="18" text-anchor="end">
<text x="1139" y="979">1E-5</text><text x="1139" y="1022.5">1E-6</text><text x="1139" y="1065.6">1E-7</text><text x="1139" y="1108.5">1E-8</text><text x="1139" y="1188.3">1E-13</text><text x="1139" y="1308.8">1E-14</text>
</g>
<g class="b" font-size="19" text-anchor="middle">
<text x="1173.8" y="1330">0</text><text x="1246.6" y="1330">60</text><text x="1319.4" y="1330">120</text><text x="1392.2" y="1330">180</text><text x="1465" y="1330">240</text><text x="1537.8" y="1330">300</text>
<text x="1355" y="1358" font-size="23">Time (s)</text>
</g>
<text transform="translate(1063,1126.8) rotate(-90)" y="8" class="b" font-size="24" text-anchor="middle">I<tspan font-size="17" dy="6">D</tspan><tspan dy="-6"> (A)</tspan></text>
</svg>
</body></html>
